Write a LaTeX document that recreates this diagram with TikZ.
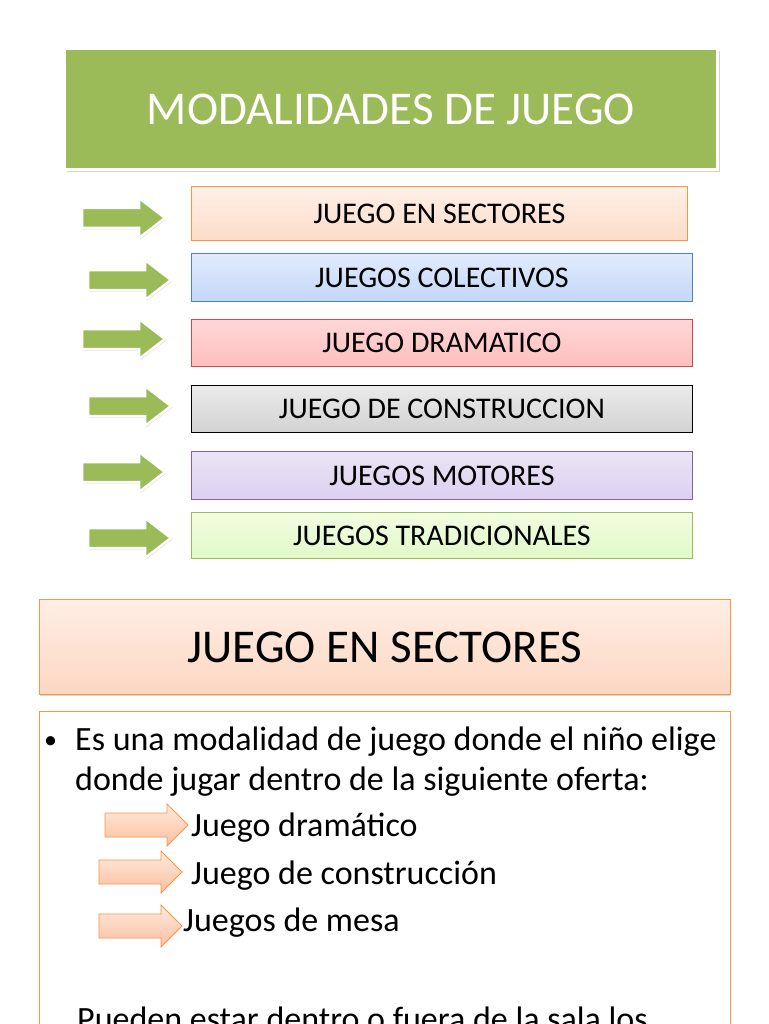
\documentclass[tikz,border=0pt]{standalone}
\usepackage{fontspec}
\setmainfont{Carlito}
\usetikzlibrary{shadows}
\begin{document}
\begin{tikzpicture}[x=1pt,y=-1pt,
  item/.style={rectangle,anchor=north west,inner sep=0pt,text=black},
  itext/.style={font=\fontsize{30}{32}\selectfont},
  garrow/.style={fill={rgb,255:red,155;green,187;blue,89},draw=white,line width=2.5pt,drop shadow={shadow xshift=1pt,shadow yshift=-1.5pt,opacity=0.3}},
  oarrow/.style={top color={rgb,255:red,255;green,235;blue,222},bottom color={rgb,255:red,250;green,190;blue,160},draw={rgb,255:red,247;green,150;blue,70},line width=0.8pt},
  body/.style={anchor=base west,inner sep=0pt,font=\fontsize{34}{38}\selectfont}]
\useasboundingbox (0,0) rectangle (768,1024);
\clip (0,0) rectangle (768,1024);
\fill[white] (0,0) rectangle (768,1024);
\definecolor{gr}{RGB}{155,187,89}
% title
\node[rectangle,draw=white,line width=3pt,fill=gr,minimum width=653pt,minimum height=121pt,anchor=north west,text=white,font=\fontsize{47}{50}\selectfont,drop shadow={shadow xshift=2pt,shadow yshift=-3pt,opacity=0.35}] (title) at (63,47) {MODALIDADES DE JUEGO};
% items
\node[item,minimum width=496pt,minimum height=54pt,top color={rgb,255:red,255;green,240;blue,232},bottom color={rgb,255:red,252;green,220;blue,200},draw={rgb,255:red,247;green,150;blue,70},line width=0.9pt] (i1) at (191,186) {};
\node[itext] at (i1.center) {JUEGO EN SECTORES};
\node[item,minimum width=501pt,minimum height=48pt,top color={rgb,255:red,225;green,236;blue,252},bottom color={rgb,255:red,195;green,215;blue,250},draw={rgb,255:red,79;green,129;blue,189},line width=0.9pt] (i2) at (191,253) {};
\node[itext] at (i2.center) {JUEGOS COLECTIVOS};
\node[item,minimum width=501pt,minimum height=47pt,top color={rgb,255:red,255;green,215;blue,215},bottom color={rgb,255:red,255;green,190;blue,190},draw={rgb,255:red,192;green,80;blue,77},line width=0.9pt] (i3) at (191,319) {};
\node[itext] at (i3.center) {JUEGO DRAMATICO};
\node[item,minimum width=501pt,minimum height=47pt,top color={rgb,255:red,235;green,235;blue,235},bottom color={rgb,255:red,210;green,210;blue,210},draw=black,line width=0.9pt] (i4) at (191,385) {};
\node[itext] at (i4.center) {JUEGO DE CONSTRUCCION};
\node[item,minimum width=501pt,minimum height=48pt,top color={rgb,255:red,235;green,228;blue,246},bottom color={rgb,255:red,220;green,208;blue,240},draw={rgb,255:red,128;green,100;blue,162},line width=0.9pt] (i5) at (191,451) {};
\node[itext] at (i5.center) {JUEGOS MOTORES};
\node[item,minimum width=501pt,minimum height=46pt,top color={rgb,255:red,240;green,252;blue,225},bottom color={rgb,255:red,225;green,250;blue,200},draw={rgb,255:red,155;green,187;blue,89},line width=0.9pt] (i6) at (191,512) {};
\node[itext] at (i6.center) {JUEGOS TRADICIONALES};
% green arrows
\newcommand{\garrowat}[2]{\draw[garrow] (#1,#2-10) -- (#1+57,#2-10) -- (#1+57,#2-20) -- (#1+83,#2) -- (#1+57,#2+20) -- (#1+57,#2+10) -- (#1,#2+10) -- cycle;}
\garrowat{82}{218}
\garrowat{88}{280}
\garrowat{82}{339}
\garrowat{88}{406}
\garrowat{82}{472}
\garrowat{88}{538}
% heading
\node[rectangle,anchor=north west,minimum width=691pt,minimum height=95pt,top color={rgb,255:red,255;green,238;blue,228},bottom color={rgb,255:red,252;green,215;blue,195},draw={rgb,255:red,247;green,150;blue,70},line width=0.9pt,font=\fontsize{47}{50}\selectfont,drop shadow={shadow xshift=1pt,shadow yshift=-2pt,opacity=0.3}] (head) at (39,599) {JUEGO EN SECTORES};
% body
\node[rectangle,anchor=north west,minimum width=691pt,minimum height=340pt,fill=white,draw={rgb,255:red,247;green,150;blue,70},line width=1.2pt] (bodybox) at (39,711) {};
\node[body,font=\fontsize{26}{30}\selectfont] (bul) at (44,748) {•};
\node[body] (l1) at (75,750) {Es una modalidad de juego donde el niño elige};
\node[body] (l2) at (75,790) {donde jugar dentro de la siguiente oferta:};
\newcommand{\oarrowat}[2]{\draw[oarrow] (#1,#2-12) -- (#1+62,#2-12) -- (#1+62,#2-21) -- (#1+83,#2) -- (#1+62,#2+21) -- (#1+62,#2+12) -- (#1,#2+12) -- cycle;}
\oarrowat{105}{825}
\oarrowat{99}{872}
\oarrowat{99}{926}
\node[body] (a1) at (191,836) {Juego dramático};
\node[body] (a2) at (191,884) {Juego de construcción};
\node[body] (a3) at (183,931) {Juegos de mesa};
\node[body] (l3) at (77,1030) {Pueden estar dentro o fuera de la sala los};
\end{tikzpicture}
\end{document}
